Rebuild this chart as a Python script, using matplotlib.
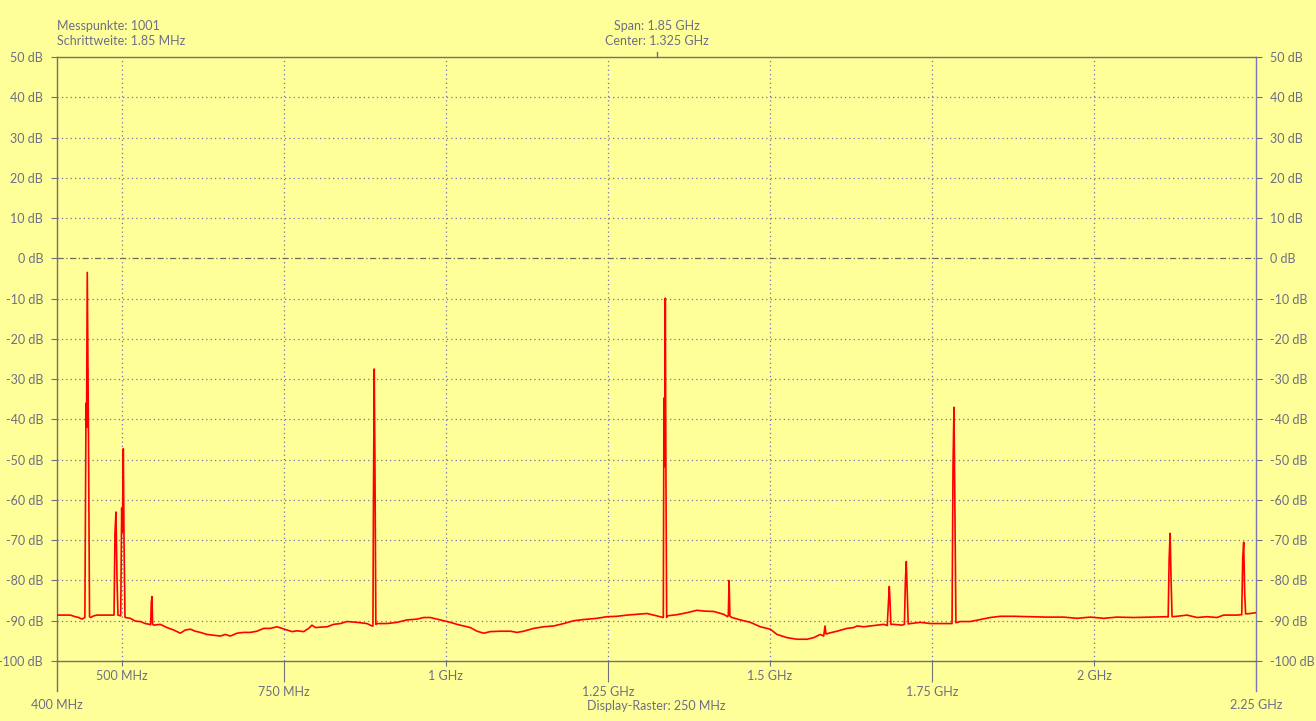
import numpy as np
import matplotlib.pyplot as plt
from matplotlib.lines import Line2D

plt.rcParams['font.family'] = ['Lato', 'DejaVu Sans']

# noise floor (MHz, dB)
base_f = [400, 410.3, 420.6, 428.3, 433.4, 438.6, 443.0,
          452.0, 456.6, 461.7, 475.0, 488.0,
          505.4, 513.1, 520.9, 528.6, 536.3, 543.0,
          549.1, 559.4, 569.7, 580.0, 590.3, 598.0, 605.7, 613.4, 621.1, 631.4,
          641.7, 652.0, 659.7, 667.4, 677.7, 688.0, 698.3, 708.6, 718.9, 729.2,
          739.4, 747.2, 754.9, 762.6, 770.3, 780.6, 788.3, 793.4, 798.6, 806.3,
          816.6, 826.9, 837.2, 847.4, 862.9, 878.3, 886.0,
          893.7, 909.1, 924.6, 940.0, 955.4, 965.7, 976.0, 986.3, 996.6, 1006.9,
          1017.2, 1027.5, 1037.8, 1048.1, 1058.3, 1068.6, 1084.1, 1099.5, 1109.8,
          1120.1, 1135.5, 1150.9, 1166.3, 1181.8, 1197.2, 1212.6, 1233.2, 1248.6,
          1264.1, 1279.5, 1294.9, 1310.4, 1320.6, 1330.9,
          1341.2, 1356.6, 1372.1, 1387.5, 1397.8, 1413.2, 1428.6, 1434.8,
          1441.5, 1454.4, 1469.8, 1485.2, 1500.6, 1510.9, 1526.3, 1541.8, 1557.2,
          1567.5, 1577.8,
          1590.6, 1603.5, 1618.9, 1629.2, 1634.4, 1644.7, 1655.0, 1665.3, 1675.5,
          1691.0, 1703.8,
          1716.7, 1732.1, 1747.6, 1763.0, 1778.4,
          1793.8, 1809.3, 1824.7, 1840.1, 1855.5, 1876.1, 1901.8, 1927.5, 1953.3,
          1973.8, 1994.4, 2015.0, 2035.5, 2061.3, 2087.0, 2112.7,
          2128.1, 2143.6, 2159.0, 2174.4, 2189.8, 2200.1, 2220.7,
          2241.3, 2250]
base_db = [-88.6, -88.6, -88.6, -89.0, -89.2, -89.6, -89.2,
           -89.2, -88.8, -88.6, -88.6, -88.6,
           -89.2, -89.4, -90.1, -90.2, -90.7, -90.9,
           -91.1, -90.9, -91.7, -92.3, -93.1, -92.3, -92.1, -92.6, -92.9, -93.4,
           -93.6, -93.8, -93.4, -93.8, -93.1, -92.9, -92.9, -92.6, -91.9, -91.9,
           -91.5, -91.9, -92.3, -92.7, -92.5, -92.7, -91.9, -91.1, -91.7, -91.6,
           -91.5, -90.9, -90.7, -90.2, -90.4, -90.7, -91.3,
           -90.7, -90.7, -90.4, -89.8, -89.6, -89.2, -89.2, -89.6, -90.0, -90.4,
           -90.9, -91.3, -91.7, -92.6, -93.1, -92.7, -92.6, -92.6, -92.9,
           -92.6, -91.9, -91.5, -91.3, -90.7, -90.0, -89.7, -89.4, -89.0,
           -88.9, -88.6, -88.4, -88.2, -88.6, -89.0,
           -88.8, -88.5, -88.0, -87.4, -87.6, -87.7, -88.4, -89.0,
           -89.2, -89.8, -90.4, -91.5, -92.1, -93.4, -94.2, -94.6, -94.6,
           -94.2, -93.4,
           -93.1, -92.6, -91.9, -91.7, -91.3, -91.5, -91.3, -91.1, -90.9,
           -90.9, -91.1,
           -90.7, -90.4, -90.7, -90.7, -90.7,
           -90.2, -90.2, -89.7, -89.2, -88.9, -88.9, -89.0, -89.1, -89.1,
           -89.4, -89.1, -89.4, -89.1, -89.2, -89.1, -89.0,
           -88.9, -88.6, -89.2, -89.0, -89.2, -88.6, -88.6,
           -88.2, -88.0]

# carriers (MHz, dB)
spike_f = [444.8, 445.6, 446.7, 448.5, 450.2,
           489.5, 491.0, 492.6, 494.1,
           498.3, 499.8, 501.0, 502.3, 503.4, 504.9,
           544.5, 545.5, 546.6, 547.5,
           887.5, 888.3, 889.5, 890.5, 892.0,
           1335.5, 1336.5, 1337.3, 1338.6, 1339.5, 1340.7,
           1435.8, 1437.0, 1438.3,
           1583.0, 1585.0, 1586.5,
           1681.0, 1682.7, 1684.2, 1685.3, 1686.6,
           1707.5, 1709.0, 1710.4, 1712.0, 1713.4,
           1781.0, 1782.5, 1784.0, 1785.6, 1787.0,
           2114.5, 2116.0, 2117.5, 2119.0, 2120.5,
           2228.0, 2229.5, 2231.0, 2232.5, 2234.0]
spike_db = [-36.0, -42.0, -3.5, -42.5, -89.0,
            -68.0, -63.0, -79.6, -88.6,
            -88.8, -62.0, -68.0, -47.3, -69.7, -89.0,
            -91.0, -85.5, -84.0, -90.8,
            -91.3, -59.0, -27.5, -49.0, -90.9,
            -89.2, -34.7, -51.7, -9.9, -51.7, -89.2,
            -88.6, -80.0, -88.9,
            -93.8, -91.3, -93.3,
            -91.2, -86.0, -81.5, -85.0, -90.9,
            -90.9, -80.3, -75.3, -83.6, -90.8,
            -90.7, -51.7, -37.0, -66.8, -90.5,
            -89.1, -74.5, -68.3, -80.0, -89.0,
            -88.5, -74.5, -70.5, -83.0, -88.3]

db_ticks = list(range(-100, 51, 10))
db_labels = ['%d dB' % v for v in db_ticks]
x_major = [500, 1000, 1500, 2000]
x_major_labels = ['500 MHz', '1 GHz', '1.5 GHz', '2 GHz']
x_minor = [750, 1250, 1750]
x_minor_labels = ['750 MHz', '1.25 GHz', '1.75 GHz']

BG = '#ffff99'
TXT = '#6e6e84'
AX = '#707078'
GRID = '#7272a8'

f = np.array(base_f + spike_f)
db = np.array(base_db + spike_db)
order = np.argsort(f, kind='stable')
f, db = f[order], db[order]

fig = plt.figure(figsize=(13.16, 7.21), dpi=100, facecolor=BG)
ax = fig.add_axes([57/1316, 60/721, 1199/1316, 604/721], facecolor=BG)
ax.set_xlim(400, 2250)
ax.set_ylim(-100, 50)

for v in db_ticks:
    if v in (-100, 0, 50):
        continue
    ax.axhline(v, color=GRID, lw=0.9, ls=(0, (1, 2.5)), zorder=1)
for v in x_major + x_minor:
    ax.axvline(v, color=GRID, lw=0.9, ls=(0, (1, 2.5)), zorder=1)
ax.axhline(0, color='#6c6c5c', lw=0.9, ls=(0, (5, 2, 1, 2)), zorder=1)

ax.plot(f, db, color='#ff0000', lw=1.2, zorder=3)

for s in ['left', 'top', 'bottom']:
    ax.spines[s].set_color(AX)
    ax.spines[s].set_linewidth(1.0)
ax.spines['right'].set_color('#7878b4')
ax.spines['right'].set_linewidth(1.0)
# spines run on below the plot
for xa, c in [(0, AX), (1, '#7878b4')]:
    ax.add_line(Line2D([xa, xa], [0, -30/604], transform=ax.transAxes,
                       color=c, lw=1.0, clip_on=False))
# center marker above the plot
ax.add_line(Line2D([1325, 1325], [1, 1 + 5/604], transform=ax.get_xaxis_transform(),
                   color=AX, lw=1.0, clip_on=False))

ax.set_yticks(db_ticks, db_labels)
ax.tick_params(axis='y', left=True, right=True, labelleft=True, labelright=True,
               length=4, width=0.8, color=AX, labelcolor=TXT, labelsize=9, pad=6)
ax.set_xticks(x_major, x_major_labels)
ax.set_xticks(x_minor, x_minor_labels, minor=True)
ax.tick_params(axis='x', which='major', length=3.6, width=0.8, color=AX,
               labelcolor=TXT, labelsize=9, pad=3)
ax.tick_params(axis='x', which='minor', length=15, width=0.8, color=AX,
               labelcolor=TXT, labelsize=9, pad=3)

def note(txt, x, dy, ha='center', xc='data'):
    ax.annotate(txt, xy=(x, 0 if dy < 0 else 1), xycoords=(xc, 'axes fraction'),
                xytext=(0, dy), textcoords='offset points', ha=ha, va='center',
                color=TXT, fontsize=9)

note('400 MHz', 400, -31.7)
note('2.25 GHz', 2250, -31.7)
note('Display-Raster: 250 MHz', 1325, -32.4)
note('Span: 1.85 GHz', 1325, 22.3)
note('Center: 1.325 GHz', 1325, 11.5)
note('Messpunkte: 1001', 400, 22.3, ha='left')
note('Schrittweite: 1.85 MHz', 400, 11.5, ha='left')

fig.savefig('out.png', dpi=100, facecolor=BG)
